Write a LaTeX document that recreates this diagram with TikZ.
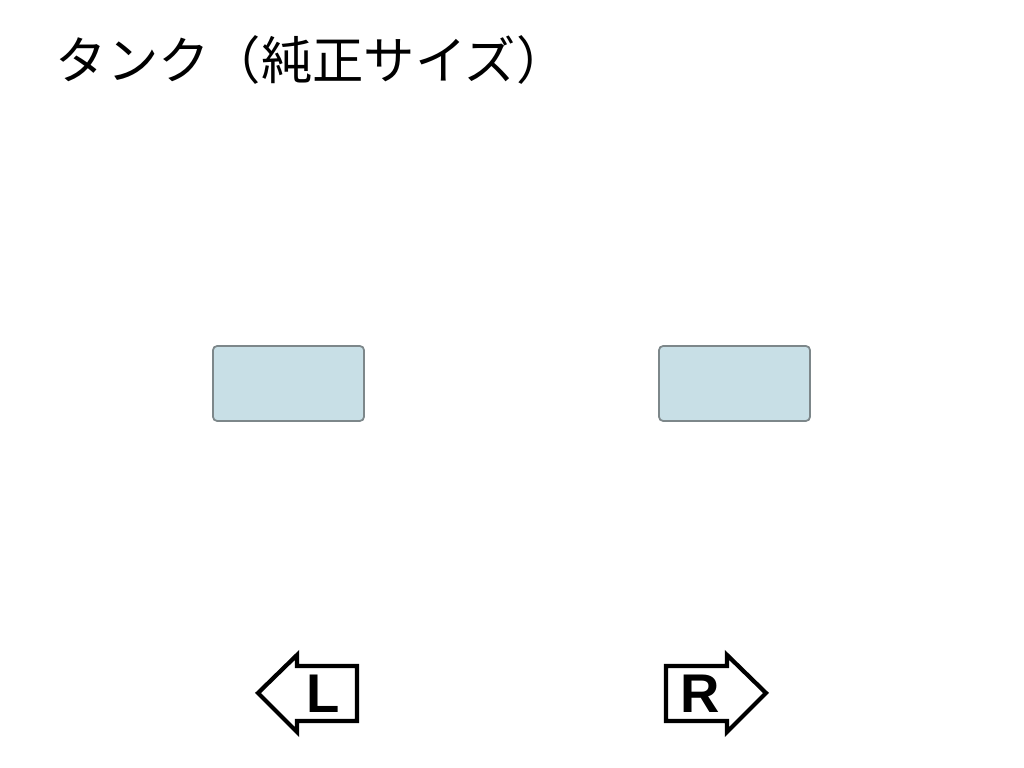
\documentclass[tikz,border=0pt]{standalone}
\usepackage{fontspec}
\setsansfont{Liberation Sans}
\newfontfamily\jpfont{Noto Sans CJK JP}
\usetikzlibrary{calc}
\definecolor{tankblue}{RGB}{200,223,230}
\definecolor{tankedge}{RGB}{125,135,138}
\tikzset{
    % one tank seen from above
    tank/.style={draw=tankedge, fill=tankblue, rounded corners=1.2pt, line width=0.5pt,
        minimum width=1.51cm, minimum height=0.75cm, inner sep=0pt},
    sidearrow/.style={draw=black, line width=1.2pt, line join=miter, fill=white},
    sideletter/.style={font=\sffamily\bfseries\fontsize{15.5}{15.5}\selectfont, inner sep=0pt}
}
\begin{document}
\begin{tikzpicture}[x=0.01cm, y=-0.01cm]
    \useasboundingbox (0,0) rectangle (1024,768);
    \node[anchor=west, inner sep=0pt, font=\jpfont\fontsize{14.6}{15}\selectfont] (title) at (55,60) {タンク（純正サイズ）};
    % tanks
    \node[tank] (tankL) at (288.5,383.5) {};
    \node[tank] (tankR) at (734.5,383.5) {};
    % left arrow
    \coordinate (tipL) at (258,693);
    \draw[sidearrow] (tipL) -- (297,655) -- (297,666) -- (357,666) -- (357,721) -- (297,721) -- (297,732) -- cycle;
    \node[sideletter] (letL) at (323,694) {L};
    % right arrow
    \coordinate (tipR) at (766,693);
    \draw[sidearrow] (tipR) -- (727,655) -- (727,666) -- (666,666) -- (666,721) -- (727,721) -- (727,732) -- cycle;
    \node[sideletter] (letR) at (700,694) {R};
\end{tikzpicture}
\end{document}
